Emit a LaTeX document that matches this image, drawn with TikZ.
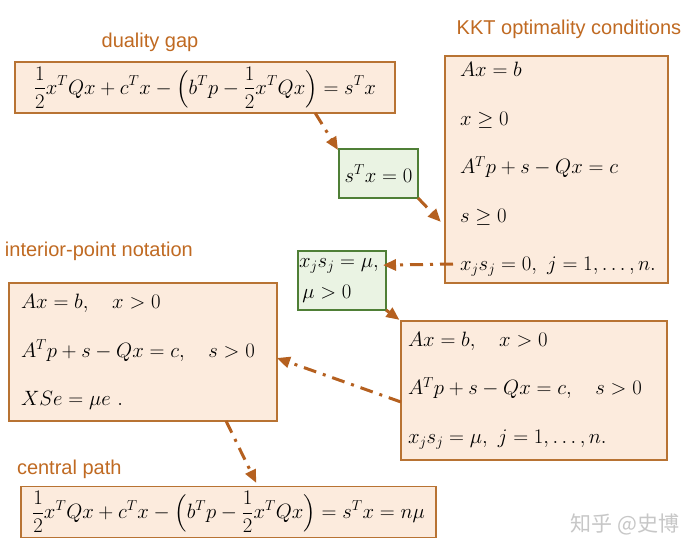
\documentclass[tikz,border=0pt]{standalone}
\usepackage{fontspec}
\usepackage{amsmath}
\usetikzlibrary{arrows.meta,calc}
\newfontfamily\labelfont{Liberation Sans}
\newfontfamily\cjkfont{Noto Sans CJK SC}
\definecolor{boxfill}{HTML}{FCEBDD}
\definecolor{boxline}{HTML}{B87333}
\definecolor{greenfill}{HTML}{EAF3E3}
\definecolor{greenline}{HTML}{4F7F36}
\definecolor{labelcol}{HTML}{C06A22}
\definecolor{arrowcol}{HTML}{B5601F}
\newcommand{\kline}[1]{\mbox{\hspace*{3pt}$#1$}}
\begin{document}
\begin{tikzpicture}[x=1pt,y=-1pt,
  every node/.style={inner sep=0pt, outer sep=0pt},
  peach/.style={draw=boxline, fill=boxfill, line width=1.1pt, rectangle, align=left,
     font=\fontsize{20.3}{48.5}\selectfont},
  formula/.style={draw=boxline, fill=boxfill, line width=1.1pt, rectangle, align=center,
     font=\fontsize{20.3}{24}\selectfont},
  greenbox/.style={draw=greenline, fill=greenfill, line width=1.1pt, rectangle, align=left,
     font=\fontsize{20.3}{31}\selectfont},
  title/.style={text=labelcol, font=\labelfont\fontsize{20}{24}\selectfont},
  flow/.style={draw=arrowcol, line width=3pt, dash pattern=on 13pt off 7pt on 3pt off 7pt,
     -{Triangle[length=13pt,width=11pt]}}
]
\useasboundingbox (0,0) rectangle (696,554);
\fill[white] (0,0) rectangle (696,554);

% labels
\node[title] (tgap) at (150,42) {duality gap};
\node[title] (tkkt) at (569,29) {KKT optimality conditions};
\node[title, anchor=west] (tint) at (5,251) {interior-point notation};
\node[title, anchor=west] (tcen) at (17,469) {central path};

% boxes
\node[formula, minimum width=380pt, minimum height=51pt] (gap) at (205,87.5)
  {$\displaystyle \frac{1}{2}x^TQx+c^Tx-\Bigl(b^Tp-\frac{1}{2}x^TQx\Bigr)=s^Tx$};
\node[greenbox, minimum width=79pt, minimum height=49pt, align=center] (s0) at (378.5,173.5)
  {$s^Tx=0$};
\node[peach, text width=199pt, inner xsep=12pt, minimum height=227pt] (kkt) at (556.5,169.5)
  {\kline{Ax=b}\\ \kline{x\geq 0}\\ \kline{A^Tp+s-Qx=c}\\ \kline{s\geq 0}\\ \kline{x_js_j=0,\ j=1,\ldots,n.}};
\node[greenbox, text width=86pt, inner xsep=1pt, minimum height=59pt] (mu) at (342,280.5)
  {$x_js_j=\mu,$\\ \,$\mu>0$};
\node[peach, text width=252pt, inner xsep=7pt, minimum height=139pt] (low) at (534,390.5)
  {$Ax=b,\quad x>0$\\ $A^Tp+s-Qx=c,\quad s>0$\\ $x_js_j=\mu,\ j=1,\ldots,n.$};
\node[peach, text width=244pt, inner xsep=12pt, minimum height=138pt] (int) at (143,352)
  {$Ax=b,\quad x>0$\\ $A^Tp+s-Qx=c,\quad s>0$\\ $XSe=\mu e\ .$};
\node[formula, minimum width=415pt, minimum height=51pt] (cen) at (228.5,512)
  {$\displaystyle \frac{1}{2}x^TQx+c^Tx-\Bigl(b^Tp-\frac{1}{2}x^TQx\Bigr)=s^Tx=n\mu$};

% watermark
\node[text=black!22, font=\cjkfont\fontsize{21}{24}\selectfont] (wm) at (625,524) {知乎 @史博};

% connectors
\draw[flow] ($(gap.south west)!0.79!(gap.south east)$) -- ([xshift=-1pt,yshift=-1pt]s0.north west);
\draw[flow, shorten >=6pt] (s0.south east) -- ($(kkt.north west)!0.75!(kkt.south west)$);
\draw[flow] ($(kkt.south west)+(8,-19)$) -- ($(mu.north east)!0.24!(mu.south east)+(-3,0)$);
\draw[flow, shorten >=2pt] (mu.south east) -- (low.north west);
\draw[flow] ($(low.south west)+(0,-58)$) -- ($(int.east)+(0,6)$);
\draw[flow, shorten >=4pt] ($(int.south west)!0.81!(int.south east)$) -- ($(cen.north west)!0.571!(cen.north east)$);
\end{tikzpicture}
\end{document}
